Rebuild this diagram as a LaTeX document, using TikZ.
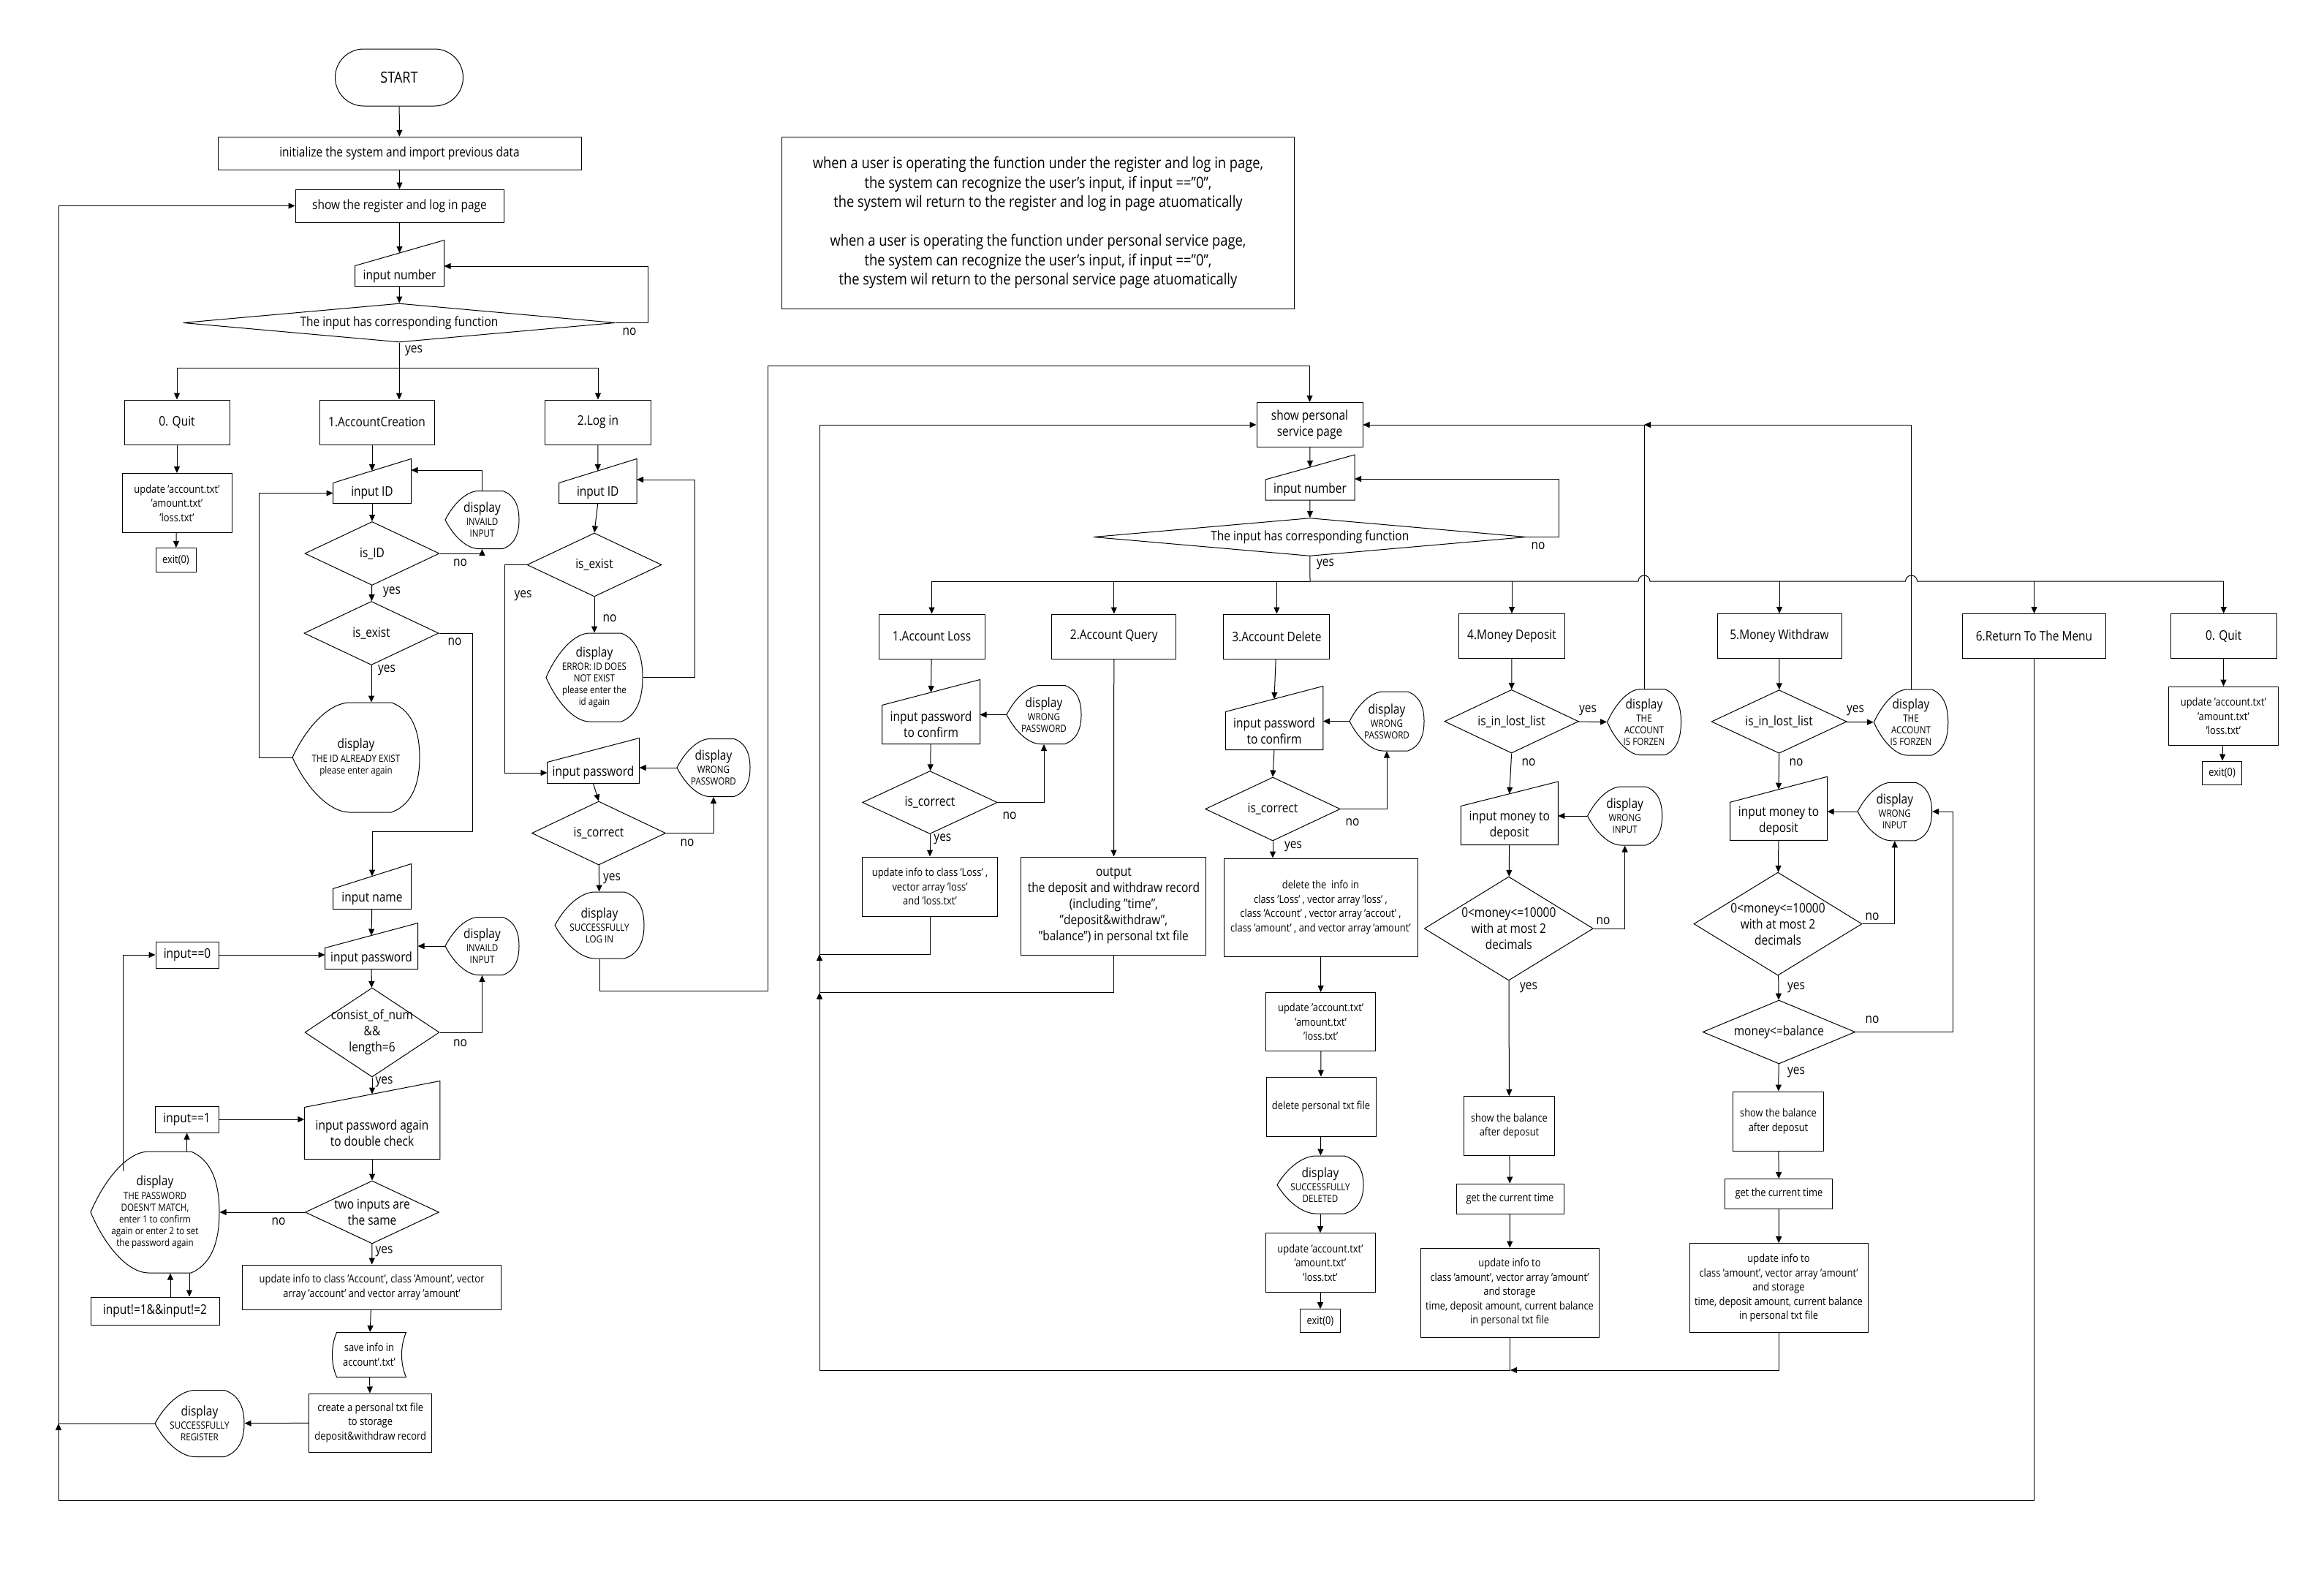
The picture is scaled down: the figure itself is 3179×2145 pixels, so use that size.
\documentclass[tikz,border=0pt]{standalone}
\usepackage{fontspec}
\setmainfont{Open Sans}[FakeStretch=0.86]
\usetikzlibrary{shapes.geometric,arrows.meta}

\newcommand{\fmain}{\fontsize{18}{22}\selectfont}
\newcommand{\fsmall}{\fontsize{15}{19.5}\selectfont}
\newcommand{\fcaps}{\fontsize{13.5}{16}\selectfont}
\newcommand{\fnote}{\fontsize{21.3}{26.5}\selectfont}
\newcommand{\fstart}{\fontsize{21}{25}\selectfont}

\newcommand{\manin}[6]{%
  \node[manin,minimum width=#3pt,minimum height=#4pt] (#1) at (#2) {#6};
  \draw (#1.south west) -- (#1.south east) -- ([yshift=#5pt]#1.north east) -- (#1.north west) -- cycle;
  \coordinate (#1-top) at ([yshift=#5pt/2]#1.north);
}
\newcommand{\dispbox}[5]{%
  \node[disp,minimum width=#3pt,minimum height=#4pt] (#1) at (#2) {#5};
  \draw[shift={(#1.center)},xscale=#3,yscale=#4] (-0.5,0) .. controls (-0.38,-0.3) and (-0.2,-0.5) .. (-0.05,-0.5)
    -- (0.28,-0.5) .. controls (0.46,-0.42) and (0.5,-0.2) .. (0.5,0)
    .. controls (0.5,0.2) and (0.46,0.42) .. (0.28,0.5)
    -- (-0.05,0.5) .. controls (-0.2,0.5) and (-0.38,0.3) .. (-0.5,0) -- cycle;
}

\begin{document}
\begin{tikzpicture}[x=1pt,y=-1pt,line width=1pt,>={Triangle[length=9pt,width=8pt]},
  box/.style={draw,rectangle,inner sep=2pt,align=center,font=\fmain},
  sbox/.style={box,font=\fsmall},
  decis/.style={draw,diamond,inner sep=0pt,align=center,font=\fmain},
  manin/.style={inner sep=0pt,align=center,font=\fmain},
  disp/.style={inner sep=0pt,align=center,font=\fcaps},
  lbl/.style={inner sep=1pt,font=\fmain}]
\useasboundingbox (0,0) rectangle (3179,2145);

\node[box,rounded corners=39pt,minimum width=175pt,minimum height=78pt,font=\fstart] (start) at (546,106) {START};
\node[box,minimum width=497pt,minimum height=45.5pt] (init) at (546.5,210) {initialize the system and import previous data};
\node[box,minimum width=285pt,minimum height=45pt] (showreg) at (546.5,281.5) {show the register and log in page};
\manin{inum1}{546.5,377.5}{121}{27}{35}{input number}
\node[decis,aspect=11.2,minimum width=591pt,minimum height=53pt] (func1) at (546,441.5) {The input has corresponding function};
\node[box,minimum width=144pt,minimum height=61pt] (quit1) at (242,577.5) {0. Quit};
\node[box,minimum width=157pt,minimum height=61pt] (acre) at (515.5,577.5) {1.AccountCreation};
\node[box,minimum width=145pt,minimum height=61pt] (login) at (818,577.5) {2.Log in};
\node[sbox,minimum width=150pt,minimum height=81pt] (upd1) at (242,688) {update 'account.txt'\\'amount.txt'\\'loss.txt'};
\node[sbox,minimum width=55pt,minimum height=33pt] (exit1) at (240.5,766) {exit(0)};
\manin{inid1}{509,674.5}{106}{27}{33}{input ID}
\dispbox{dinv1}{659.5,711}{101}{79}{{\fmain display}\\[2pt]INVAILD\\INPUT}
\node[decis,aspect=2.1,minimum width=184pt,minimum height=87pt] (isid) at (509,757) {is\_ID};
\node[decis,aspect=2.1,minimum width=184pt,minimum height=87pt] (isex1) at (508,866) {is\_exist};
\dispbox{dexist}{487,1036}{174}{150}{{\fmain display}\\[3pt]THE ID ALREADY EXIST\\please enter again}
\manin{inname}{509,1229.5}{106}{27}{34}{input name}
\manin{inpw1}{508,1311}{126}{28}{34}{input password}
\dispbox{dinv2}{659.5,1294}{101}{79}{{\fmain display}\\[2pt]INVAILD\\INPUT}
\node[box,minimum width=86pt,minimum height=36pt] (in0) at (256,1306) {input==0};
\node[decis,aspect=1.51,inner sep=-6pt,minimum width=184pt,minimum height=122pt] (consist) at (509,1412) {consist\_of\_num\\\&\&\\length=6};
\manin{inpw2}{509,1550}{184.5}{70}{36}{input password again\\to double check}
\node[box,minimum width=87pt,minimum height=36pt] (in1) at (255.6,1531) {input==1};
\dispbox{dmatch}{212,1658}{176}{166}{{\fmain display}\\[3pt]THE PASSWORD\\DOESN'T MATCH,\\enter 1 to confirm\\again or enter 2 to set\\the password again}
\node[decis,aspect=2.13,inner sep=-3pt,minimum width=183pt,minimum height=86pt] (same) at (509,1658) {two inputs are\\the same};
\node[sbox,minimum width=354pt,minimum height=61pt] (updacc) at (508.6,1760.5) {update info to class 'Account', class 'Amount', vector\\array 'account' and vector array 'amount'};
\node[box,minimum width=176pt,minimum height=38pt] (inne) at (212,1793) {input!=1\&\&input!=2};
\node[inner sep=0pt,align=center,font=\fsmall,minimum width=101pt,minimum height=61pt] (save) at (505,1853) {save info in\\account'.txt'};
\draw[shift={(save.center)},xscale=101,yscale=61] (-0.44,-0.5) -- (0.5,-0.5) .. controls (0.42,-0.2) and (0.42,0.2) .. (0.5,0.5) -- (-0.44,0.5) .. controls (-0.52,0.2) and (-0.52,-0.2) .. (-0.44,-0.5) -- cycle;
\node[sbox,minimum width=168pt,minimum height=80pt] (create) at (506.7,1946) {create a personal txt file\\to storage\\deposit\&withdraw record};
\dispbox{dreg}{273,1947}{122}{91}{{\fmain display}\\[2pt]SUCCESSFULLY\\REGISTER}

\manin{inid2}{817.75,674.5}{105.5}{27}{33}{input ID}
\node[decis,aspect=2.1,minimum width=184pt,minimum height=87pt] (isex2) at (813,772.5) {is\_exist};
\dispbox{derr}{813,926.5}{132}{121}{{\fmain display}\\[2pt]ERROR: ID DOES\\NOT EXIST\\please enter the\\id again}
\manin{inpw3}{811.5,1057}{125}{28}{33}{input password}
\dispbox{dwpw1}{976,1050}{100}{79}{{\fmain display}\\[2pt]WRONG\\PASSWORD}
\node[decis,aspect=2.1,minimum width=183pt,minimum height=87pt] (iscor1) at (819,1139.5) {is\_correct};
\dispbox{dlogin}{820,1265.5}{122}{91}{{\fmain display}\\[2pt]SUCCESSFULLY\\LOG IN}

\node[draw,rectangle,minimum width=701pt,minimum height=235pt,align=center,font=\fnote] (note) at (1420,304.5) {when a user is operating the function under the register and log in page,\\the system can recognize the user's input, if input =="0",\\the system wil return to the register and log in page atuomatically\\[26.5pt]when a user is operating the function under personal service page,\\the system can recognize the user's input, if input =="0",\\the system wil return to the personal service page atuomatically};

\node[box,minimum width=145pt,minimum height=61pt] (showper) at (1791.5,581) {show personal\\service page};
\manin{inum2}{1792,670}{121}{27}{34}{input number}
\node[decis,aspect=11.4,minimum width=592pt,minimum height=52pt] (func2) at (1791.8,734.5) {The input has corresponding function};
\node[box,minimum width=145pt,minimum height=61pt] (aloss) at (1274.5,870.5) {1.Account Loss};
\node[box,minimum width=170pt,minimum height=61pt] (aquery) at (1523.8,870.5) {2.Account Query};
\node[box,minimum width=145pt,minimum height=61pt] (adel) at (1746.4,870.5) {3.Account Delete};
\node[box,minimum width=145pt,minimum height=61pt] (mdep) at (2068,870) {4.Money Deposit};
\node[box,minimum width=170pt,minimum height=61pt] (mwd) at (2434,870) {5.Money Withdraw};
\node[box,minimum width=196pt,minimum height=61pt] (retm) at (2782.5,870) {6.Return To The Menu};
\node[box,minimum width=145pt,minimum height=61pt] (quit2) at (3041.7,870) {0. Quit};

\manin{inpw4}{1273.5,991}{133}{52}{35}{input password\\to confirm}
\dispbox{dwpw2}{1428,977.5}{102}{80}{{\fmain display}\\[2pt]WRONG\\PASSWORD}
\node[decis,aspect=2.1,minimum width=184.6pt,minimum height=86pt] (iscor2) at (1272,1097.5) {is\_correct};
\node[sbox,minimum width=184.6pt,minimum height=81pt] (updloss) at (1272,1212.5) {update info to class 'Loss' ,\\vector array 'loss'\\and 'loss.txt'};
\node[box,minimum width=253pt,minimum height=134pt] (output) at (1523.4,1239) {output\\the deposit and withdraw record\\(including "time",\\"deposit\&withdraw",\\"balance") in personal txt file};
\manin{inpw5}{1743,999.5}{132.5}{51}{35}{input password\\to confirm}
\dispbox{dwpw3}{1897,986.5}{102}{81}{{\fmain display}\\[2pt]WRONG\\PASSWORD}
\node[decis,aspect=2.1,minimum width=184.6pt,minimum height=87pt] (iscor3) at (1741,1106.5) {is\_correct};
\node[sbox,minimum width=265pt,minimum height=134pt] (delinfo) at (1806.5,1241) {delete the\ \ info in\\class 'Loss' , vector array 'loss' ,\\class 'Account' , vector array 'accout' ,\\class 'amount' , and vector array 'amount'};
\node[sbox,minimum width=150pt,minimum height=80pt] (upd2) at (1806.7,1397.5) {update 'account.txt'\\'amount.txt'\\'loss.txt'};
\node[sbox,minimum width=150pt,minimum height=81pt] (delfile) at (1807,1513.5) {delete personal txt file};
\dispbox{ddel}{1806,1620.5}{118}{79}{{\fmain display}\\[2pt]SUCCESSFULLY\\DELETED}
\node[sbox,minimum width=150pt,minimum height=80.6pt] (upd3) at (1806,1727) {update 'account.txt'\\'amount.txt'\\'loss.txt'};
\node[sbox,minimum width=55pt,minimum height=32pt] (exit2) at (1806,1806.7) {exit(0)};

\node[decis,aspect=2.12,minimum width=183.5pt,minimum height=86.7pt] (lost1) at (2067.6,986.7) {is\_in\_lost\_list};
\dispbox{dfroz1}{2249,987.6}{101}{90}{{\fmain display}\\[2pt]THE\\ACCOUNT\\IS FORZEN}
\manin{inm1}{2064.75,1129}{132}{52}{33.5}{input money to\\deposit}
\dispbox{dwin1}{2222.6,1116}{102}{80}{{\fmain display}\\[2pt]WRONG\\INPUT}
\node[decis,aspect=1.63,inner sep=-2pt,minimum width=231pt,minimum height=142pt] (rng1) at (2063.8,1270) {0<money<=10000\\with at most 2\\decimals};
\node[sbox,minimum width=124pt,minimum height=81pt] (bal1) at (2064.5,1540) {show the balance\\after deposut};
\node[sbox,minimum width=147pt,minimum height=41pt] (time1) at (2065.5,1639.5) {get the current time};
\node[sbox,minimum width=244pt,minimum height=122pt] (updd) at (2065,1768) {update info to\\class 'amount', vector array 'amount'\\and storage\\time, deposit amount, current balance\\in personal txt file};

\node[decis,aspect=2.14,minimum width=185pt,minimum height=86.6pt] (lost2) at (2433.6,987) {is\_in\_lost\_list};
\dispbox{dfroz2}{2614,988}{101.5}{90}{{\fmain display}\\[2pt]THE\\ACCOUNT\\IS FORZEN}
\manin{inm2}{2433,1123.25}{132}{51}{35}{input money to\\deposit}
\dispbox{dwin2}{2591.8,1110}{101.5}{79.5}{{\fmain display}\\[2pt]WRONG\\INPUT}
\node[decis,aspect=1.63,inner sep=-2pt,minimum width=230pt,minimum height=141pt] (rng2) at (2432,1263.6) {0<money<=10000\\with at most 2\\decimals};
\node[decis,aspect=2.4,minimum width=208.5pt,minimum height=87pt] (bal) at (2433.4,1411.5) {money<=balance};
\node[sbox,minimum width=124pt,minimum height=81pt] (bal2) at (2432.5,1533.5) {show the balance\\after deposut};
\node[sbox,minimum width=147pt,minimum height=41pt] (time2) at (2433.4,1633) {get the current time};
\node[sbox,minimum width=244pt,minimum height=122pt] (updw) at (2433,1761.7) {update info to\\class 'amount', vector array 'amount'\\and storage\\time, deposit amount, current balance\\in personal txt file};

\node[sbox,minimum width=150.7pt,minimum height=80.6pt] (upd4) at (3041.4,979.5) {update 'account.txt'\\'amount.txt'\\'loss.txt'};
\node[sbox,minimum width=54pt,minimum height=32pt] (exit3) at (3039.6,1057) {exit(0)};

\coordinate (br1) at (546,503);
\coordinate (br2) at (1792,795);
\coordinate (jl) at (80,1947);
\coordinate (cbl) at (80,2052);
\coordinate (jA) at (1121,1305);
\coordinate (jB) at (1121,1357.5);
\coordinate (jC) at (1121,1874);
\coordinate (jD) at (2066,1874);

\draw[->] (start) -- (init);
\draw[->] (init) -- (showreg);
\draw[->] (showreg) -- (inum1-top);
\draw[->] (inum1) -- (func1);
\draw[->] (func1.east) -- ++(44,0) |- ([yshift=13.5pt]inum1.east);
\draw (func1.south) -- (br1);
\draw[->] (br1) -| (quit1.north);
\draw[->] (br1) -- (br1 |- acre.north);
\draw[->] (br1) -| (login.north);
\draw[->] (quit1) -- (upd1);
\draw[->] (upd1) -- (exit1);
\draw[->] (acre.south -| inid1.north) -- (inid1-top);
\draw[->] (dinv1.north) |- ([yshift=31.5pt]inid1.east);
\draw[->] (inid1) -- (isid);
\draw[->] (isid.east) -| (dinv1.south);
\draw[->] (isid) -- (isex1);
\draw[->] (isex1.south) -- (isex1.south |- dexist.north);
\draw[->] (dexist.west) -- ++(-45,0) |- (inid1.west);
\draw[->] (isex1.east) -- ++(45.5,0) -- ++(0,271) -| (inname-top);
\draw[->] (inname) -- (inpw1-top);
\draw[->] (dinv2.west) -- (dinv2.west -| inpw1.east);
\draw[->] (in0.east) -- (in0.east -| inpw1.west);
\draw[->] (inpw1) -- (consist);
\draw[->] (consist.east) -| (dinv2.south);
\draw[->] (consist.south) -- (inpw2-top);
\draw[->] (in1.east) -- (in1.east -| inpw2.west);
\draw[->] (inpw2) -- (same);
\draw[->] (same.west) -- (dmatch.east);
\draw[->] (same) -- (updacc);
\draw[->] (in1.south |- dmatch.north) -- (in1.south);
\draw[->] ([xshift=-44pt,yshift=56pt]dmatch.center) |- (in0.west);
\draw[->] ([xshift=47pt]dmatch.south) -- ([xshift=47pt]inne.north);
\draw[->] ([xshift=21pt]inne.north) -- ([xshift=21pt]dmatch.south);
\draw[->] (updacc) -- (save);
\draw[->] (save) -- (create);
\draw[->] (create) -- (dreg);
\draw (dreg.west) -- (jl);
\draw[->] (retm.south) |- (cbl) -- (jl);
\draw[->] (jl) |- (showreg.west);

\draw[->] (login) -- (inid2-top);
\draw[->] (derr.east) -- ++(71,0) |- ([yshift=18.5pt]inid2.east);
\draw[->] (inid2.south) -- (isex2.north);
\draw[->] (isex2.west) -- ++(-30.3,0) |- (inpw3.west);
\draw[->] (isex2) -- (derr);
\draw[->] (dwpw1.west) -- (dwpw1.west -| inpw3.east);
\draw[->] (inpw3.south) -- (iscor1.north);
\draw[->] (iscor1.east) -| (dwpw1.south);
\draw[->] (iscor1) -- (dlogin);
\draw[->] (dlogin.south) -- ++(0,44) -- ++(230,0) -- ++(0,-855.5) -| (showper.north);

\draw[->] (showper) -- (inum2-top);
\draw[->] (inum2) -- (func2);
\draw[->] (func2.east) -- ++(44,0) |- ([yshift=15pt]inum2.east);
\draw (func2.south) -- (br2);
\draw[->] (br2) -| (aloss.north);
\draw[->] (aquery.north |- br2) -- (aquery.north);
\draw[->] (adel.north |- br2) -- (adel.north);
\draw (br2) -- (2241,795) arc[start angle=180,end angle=0,radius=8pt] -- (2606.5,795) arc[start angle=180,end angle=0,radius=8pt] -- (3041.7,795);
\draw[->] (mdep.north |- br2) -- (mdep.north);
\draw[->] (mwd.north |- br2) -- (mwd.north);
\draw[->] (retm.north |- br2) -- (retm.north);
\draw[->] (quit2.north |- br2) -- (quit2.north);

\draw[->] (aloss) -- (inpw4-top);
\draw[->] (dwpw2.west) -- (dwpw2.west -| inpw4.east);
\draw[->] (inpw4) -- (iscor2);
\draw[->] (iscor2.east) -| (dwpw2.south);
\draw[->] (iscor2) -- (updloss);
\draw (updloss.south) |- (jA);
\draw[->] (aquery) -- (output);
\draw (output.south) |- (jB);
\draw[->] (adel) -- (inpw5-top);
\draw[->] (dwpw3.west) -- (dwpw3.west -| inpw5.east);
\draw[->] (inpw5.south) -- (iscor3.north);
\draw[->] (iscor3.east) -| (dwpw3.south);
\draw[->] (iscor3.south) -- (iscor3.south |- delinfo.north);
\draw[->] (delinfo) -- (upd2);
\draw[->] (upd2) -- (delfile);
\draw[->] (delfile) -- (ddel);
\draw[->] (ddel) -- (upd3);
\draw[->] (upd3) -- (exit2);

\draw[->] (mdep) -- (lost1);
\draw[->] (lost1) -- (dfroz1);
\draw (dfroz1.north) -- (dfroz1.north |- showper.east);
\draw[->] (dfroz2.north) |- (dfroz1.north |- showper.east);
\draw[->] (dfroz1.north |- showper.east) -- (showper.east);
\draw[->] (lost1.south) -- (inm1-top);
\draw[->] (dwin1.west) -- (dwin1.west -| inm1.east);
\draw[->] (inm1) -- (rng1);
\draw[->] (rng1.east) -| (dwin1.south);
\draw[->] (rng1) -- (bal1);
\draw[->] (bal1) -- (time1);
\draw[->] (time1) -- (updd);
\draw (updd.south) |- (jD);

\draw[->] (mwd) -- (lost2);
\draw[->] (lost2) -- (dfroz2);
\draw[->] (lost2.south) -- (inm2-top);
\draw[->] (dwin2.west) -- (dwin2.west -| inm2.east);
\draw[->] (inm2) -- (rng2);
\draw[->] (rng2.east) -| (dwin2.south);
\draw[->] (rng2) -- (bal);
\draw[->] (bal.east) -- ++(133,0) |- (dwin2.east);
\draw[->] (bal) -- (bal2);
\draw[->] (bal2) -- (time2);
\draw[->] (time2) -- (updw);
\draw[->] (updw.south) |- (jD);
\draw[->] (jD) -- (jC) -- (jB);
\draw[->] (jB) -- (jA);
\draw[->] (jA) |- (showper.west);

\draw[->] (quit2) -- (upd4);
\draw[->] (upd4) -- (exit3);

\node[lbl] (t1) at (861,454) {no};
\node[lbl] (t2) at (566,480) {yes};
\node[lbl] (t3) at (629.5,770) {no};
\node[lbl] (t4) at (536,810) {yes};
\node[lbl] (t5) at (622,878) {no};
\node[lbl] (t6) at (529,917) {yes};
\node[lbl] (t7) at (629.5,1427) {no};
\node[lbl] (t8) at (525.5,1480) {yes};
\node[lbl] (t9) at (381,1670.5) {no};
\node[lbl] (t10) at (525.5,1711.6) {yes};
\node[lbl] (t11) at (715.6,815) {yes};
\node[lbl] (t12) at (834,846) {no};
\node[lbl] (t13) at (940,1153) {no};
\node[lbl] (t14) at (837,1202) {yes};
\node[lbl] (t15) at (2104,747) {no};
\node[lbl] (t16) at (1813,772) {yes};
\node[lbl] (t17) at (1381,1116) {no};
\node[lbl] (t18) at (1289.4,1148) {yes};
\node[lbl] (t19) at (1850,1125) {no};
\node[lbl] (t20) at (1769,1158) {yes};
\node[lbl] (t21) at (2172,972) {yes};
\node[lbl] (t22) at (2091,1043) {no};
\node[lbl] (t23) at (2193,1260) {no};
\node[lbl] (t24) at (2091,1351) {yes};
\node[lbl] (t25) at (2538,972) {yes};
\node[lbl] (t26) at (2457,1043) {no};
\node[lbl] (t27) at (2561,1254) {no};
\node[lbl] (t28) at (2457,1351) {yes};
\node[lbl] (t29) at (2561,1395) {no};
\node[lbl] (t30) at (2457,1467) {yes};
\end{tikzpicture}
\end{document}
